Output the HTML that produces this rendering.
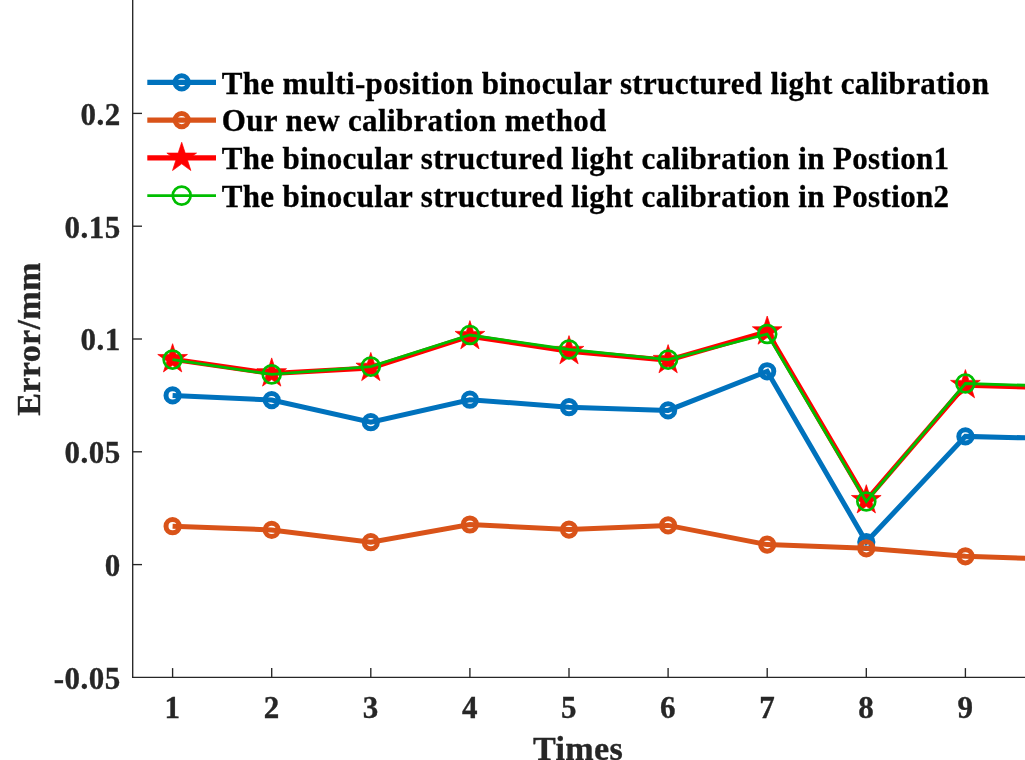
<!DOCTYPE html>
<html><head><meta charset="utf-8"><title>Calibration error chart</title>
<style>
html,body{margin:0;padding:0;background:#fff;}
body{width:1025px;height:760px;overflow:hidden;position:relative;}
svg{position:absolute;left:0;top:0;display:block;}
text{font-family:"Liberation Serif","Times New Roman",serif;font-weight:bold;}
.tk{font-size:31px;fill:#262626;letter-spacing:0.45px;stroke:#262626;stroke-width:0.35px;}
.lb{font-size:34.1px;fill:#262626;letter-spacing:0.35px;stroke:#262626;stroke-width:0.35px;}
.lg{font-size:31px;fill:#000;letter-spacing:0.357px;stroke:#000;stroke-width:0.3px;}
</style></head><body>
<svg width="1025" height="760" viewBox="0 0 1025 760">
<rect width="1025" height="760" fill="#fff"/>

<g stroke="#262626" stroke-width="1.35" fill="none">
<path d="M132.7 0V677.4H1025"/>
<path d="M172.6 677.4v-9.3"/>
<path d="M271.7 677.4v-9.3"/>
<path d="M370.8 677.4v-9.3"/>
<path d="M469.9 677.4v-9.3"/>
<path d="M569.0 677.4v-9.3"/>
<path d="M668.1 677.4v-9.3"/>
<path d="M767.2 677.4v-9.3"/>
<path d="M866.3 677.4v-9.3"/>
<path d="M965.4 677.4v-9.3"/>
<path d="M132.7 113.4h9.3"/>
<path d="M132.7 226.2h9.3"/>
<path d="M132.7 339.0h9.3"/>
<path d="M132.7 451.8h9.3"/>
<path d="M132.7 564.6h9.3"/>
</g>
<text class="tk" x="172.6" y="718" text-anchor="middle">1</text>
<text class="tk" x="271.7" y="718" text-anchor="middle">2</text>
<text class="tk" x="370.8" y="718" text-anchor="middle">3</text>
<text class="tk" x="469.9" y="718" text-anchor="middle">4</text>
<text class="tk" x="569.0" y="718" text-anchor="middle">5</text>
<text class="tk" x="668.1" y="718" text-anchor="middle">6</text>
<text class="tk" x="767.2" y="718" text-anchor="middle">7</text>
<text class="tk" x="866.3" y="718" text-anchor="middle">8</text>
<text class="tk" x="965.4" y="718" text-anchor="middle">9</text>
<text class="tk" x="120.6" y="124.7" text-anchor="end">0.2</text>
<text class="tk" x="120.6" y="237.5" text-anchor="end">0.15</text>
<text class="tk" x="120.6" y="350.3" text-anchor="end">0.1</text>
<text class="tk" x="120.6" y="463.1" text-anchor="end">0.05</text>
<text class="tk" x="120.6" y="575.9" text-anchor="end">0</text>
<text class="tk" x="120.6" y="688.7" text-anchor="end">-0.05</text>
<text class="lb" x="578" y="759.5" text-anchor="middle">Times</text>
<text class="lb" transform="translate(39.5 339) rotate(-90)" text-anchor="middle">Error/mm</text>
<g stroke="#0072BD" fill="none">
<polyline points="172.6,395.4 271.7,400.1 370.8,422.2 469.9,399.7 569.0,407.2 668.1,410.4 767.2,371.3 866.3,542.0 965.4,436.4 1064.5,438.8" stroke-width="5.0" stroke-linejoin="miter"/>
<circle cx="172.6" cy="395.4" r="6.6" stroke-width="5.0"/>
<circle cx="271.7" cy="400.1" r="6.6" stroke-width="5.0"/>
<circle cx="370.8" cy="422.2" r="6.6" stroke-width="5.0"/>
<circle cx="469.9" cy="399.7" r="6.6" stroke-width="5.0"/>
<circle cx="569.0" cy="407.2" r="6.6" stroke-width="5.0"/>
<circle cx="668.1" cy="410.4" r="6.6" stroke-width="5.0"/>
<circle cx="767.2" cy="371.3" r="6.6" stroke-width="5.0"/>
<circle cx="866.3" cy="542.0" r="6.6" stroke-width="5.0"/>
<circle cx="965.4" cy="436.4" r="6.6" stroke-width="5.0"/>
</g>
<g stroke="#D95319" fill="none">
<polyline points="172.6,526.2 271.7,529.9 370.8,542.2 469.9,524.5 569.0,529.6 668.1,525.4 767.2,544.6 866.3,548.3 965.4,556.3 1064.5,559.5" stroke-width="5.0" stroke-linejoin="miter"/>
<circle cx="172.6" cy="526.2" r="6.6" stroke-width="5.0"/>
<circle cx="271.7" cy="529.9" r="6.6" stroke-width="5.0"/>
<circle cx="370.8" cy="542.2" r="6.6" stroke-width="5.0"/>
<circle cx="469.9" cy="524.5" r="6.6" stroke-width="5.0"/>
<circle cx="569.0" cy="529.6" r="6.6" stroke-width="5.0"/>
<circle cx="668.1" cy="525.4" r="6.6" stroke-width="5.0"/>
<circle cx="767.2" cy="544.6" r="6.6" stroke-width="5.0"/>
<circle cx="866.3" cy="548.3" r="6.6" stroke-width="5.0"/>
<circle cx="965.4" cy="556.3" r="6.6" stroke-width="5.0"/>
</g>
<g stroke="#FF0000" fill="#FF0000">
<polyline points="172.6,359.3 271.7,373.5 370.8,368.0 469.9,336.2 569.0,351.2 668.1,360.2 767.2,331.6 866.3,500.3 965.4,385.2 1064.5,388.0" stroke-width="5.0" fill="none" stroke-linejoin="miter"/>
<polygon points="172.60,343.70 176.10,354.48 187.44,354.48 178.27,361.14 181.77,371.92 172.60,365.26 163.43,371.92 166.93,361.14 157.76,354.48 169.10,354.48" stroke-width="0.7" stroke-linejoin="miter"/>
<polygon points="271.70,357.90 275.20,368.68 286.54,368.68 277.37,375.34 280.87,386.12 271.70,379.46 262.53,386.12 266.03,375.34 256.86,368.68 268.20,368.68" stroke-width="0.7" stroke-linejoin="miter"/>
<polygon points="370.80,352.40 374.30,363.18 385.64,363.18 376.47,369.84 379.97,380.62 370.80,373.96 361.63,380.62 365.13,369.84 355.96,363.18 367.30,363.18" stroke-width="0.7" stroke-linejoin="miter"/>
<polygon points="469.90,320.60 473.40,331.38 484.74,331.38 475.57,338.04 479.07,348.82 469.90,342.16 460.73,348.82 464.23,338.04 455.06,331.38 466.40,331.38" stroke-width="0.7" stroke-linejoin="miter"/>
<polygon points="569.00,335.60 572.50,346.38 583.84,346.38 574.67,353.04 578.17,363.82 569.00,357.16 559.83,363.82 563.33,353.04 554.16,346.38 565.50,346.38" stroke-width="0.7" stroke-linejoin="miter"/>
<polygon points="668.10,344.60 671.60,355.38 682.94,355.38 673.77,362.04 677.27,372.82 668.10,366.16 658.93,372.82 662.43,362.04 653.26,355.38 664.60,355.38" stroke-width="0.7" stroke-linejoin="miter"/>
<polygon points="767.20,316.00 770.70,326.78 782.04,326.78 772.87,333.44 776.37,344.22 767.20,337.56 758.03,344.22 761.53,333.44 752.36,326.78 763.70,326.78" stroke-width="0.7" stroke-linejoin="miter"/>
<polygon points="866.30,484.70 869.80,495.48 881.14,495.48 871.97,502.14 875.47,512.92 866.30,506.26 857.13,512.92 860.63,502.14 851.46,495.48 862.80,495.48" stroke-width="0.7" stroke-linejoin="miter"/>
<polygon points="965.40,369.60 968.90,380.38 980.24,380.38 971.07,387.04 974.57,397.82 965.40,391.16 956.23,397.82 959.73,387.04 950.56,380.38 961.90,380.38" stroke-width="0.7" stroke-linejoin="miter"/>
</g>
<g stroke="#00BE00" fill="none">
<polyline points="172.6,359.6 271.7,374.4 370.8,366.6 469.9,335.0 569.0,349.5 668.1,359.6 767.2,334.0 866.3,501.5 965.4,383.5 1064.5,386.4" stroke-width="2.8" stroke-linejoin="miter"/>
<circle cx="172.6" cy="359.6" r="8.95" stroke-width="2.7"/>
<circle cx="271.7" cy="374.4" r="8.95" stroke-width="2.7"/>
<circle cx="370.8" cy="366.6" r="8.95" stroke-width="2.7"/>
<circle cx="469.9" cy="335.0" r="8.95" stroke-width="2.7"/>
<circle cx="569.0" cy="349.5" r="8.95" stroke-width="2.7"/>
<circle cx="668.1" cy="359.6" r="8.95" stroke-width="2.7"/>
<circle cx="767.2" cy="334.0" r="8.95" stroke-width="2.7"/>
<circle cx="866.3" cy="501.5" r="8.95" stroke-width="2.7"/>
<circle cx="965.4" cy="383.5" r="8.95" stroke-width="2.7"/>
</g>
<g fill="none">
<path d="M147.3 82.4H216.0" stroke="#0072BD" stroke-width="5.3"/><circle cx="181.7" cy="82.4" r="6.6" stroke="#0072BD" stroke-width="5"/>
<path d="M147.3 120.1H216.0" stroke="#D95319" stroke-width="5.3"/><circle cx="181.7" cy="120.1" r="6.6" stroke="#D95319" stroke-width="5"/>
<path d="M147.3 157.9H216.0" stroke="#FF0000" stroke-width="5.3"/><polygon points="181.70,142.30 185.20,153.08 196.54,153.08 187.37,159.74 190.87,170.52 181.70,163.86 172.53,170.52 176.03,159.74 166.86,153.08 178.20,153.08" fill="#FF0000" stroke="#FF0000" stroke-width="0.7"/>
<path d="M147.3 195.6H216.0" stroke="#00BE00" stroke-width="2.7"/><circle cx="181.7" cy="195.6" r="8.95" stroke="#00BE00" stroke-width="2.7"/>
</g>
<text class="lg" x="221.7" y="93.7">The multi-position binocular structured light calibration</text>
<text class="lg" x="221.7" y="131.4">Our new calibration method</text>
<text class="lg" x="221.7" y="169.2">The binocular structured light calibration in Postion1</text>
<text class="lg" x="221.7" y="206.9">The binocular structured light calibration in Postion2</text>
</svg></body></html>
